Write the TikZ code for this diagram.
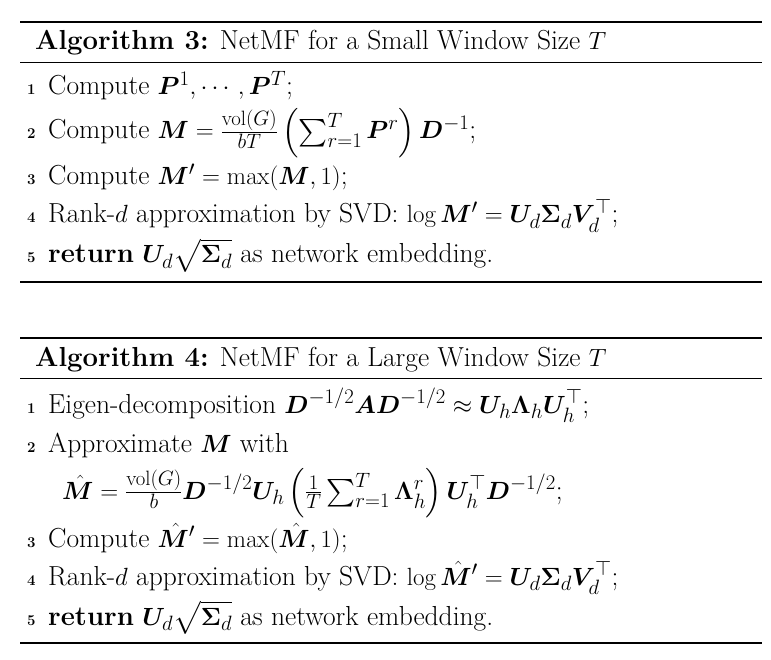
\documentclass[tikz,border=0pt]{standalone}
\usepackage{amsmath,amssymb,bm}
\begin{document}
\begin{tikzpicture}[x=1pt,y=-1pt,
  txt/.style={anchor=base west,inner sep=0pt,font=\fontsize{27.5}{31}\selectfont},
  num/.style={anchor=base west,inner sep=0pt,font=\fontsize{15}{17}\selectfont\bfseries},
  thick rule/.style={line width=1.6pt},
  thin rule/.style={line width=0.9pt}]
\useasboundingbox (0,0) rectangle (771,660);
% Algorithm 3
\draw[thick rule] (20,22) -- (762,22);
\node[txt] (c3) at (35,50) {\textbf{Algorithm 3:} NetMF for a Small Window Size $T$};
\draw[thin rule] (20,62) -- (762,62);
\node[num] (n31) at (27,95) {1};
\node[txt] (l31) at (48,95) {Compute $\bm{P}^1,\cdots,\bm{P}^T$;};
\node[num] (n32) at (27,139) {2};
\node[txt] (l32) at (48,139) {Compute $\bm{M}=\frac{\mathrm{vol}(G)}{bT}\left(\sum_{r=1}^{T}\bm{P}^r\right)\bm{D}^{-1}$;};
\node[num] (n33) at (27,185) {3};
\node[txt] (l33) at (48,185) {Compute $\bm{M}'=\max(\bm{M},1)$;};
\node[num] (n34) at (27,223) {4};
\node[txt] (l34) at (48,223) {Rank-$d$ approximation by SVD: $\log\bm{M}'=\bm{U}_d\bm{\Sigma}_d\bm{V}_d^{\top}$;};
\node[num] (n35) at (27,263) {5};
\node[txt] (l35) at (48,263) {\textbf{return} $\bm{U}_d\sqrt{\bm{\Sigma}_d}$ as network embedding.};
\draw[thick rule] (20,282) -- (762,282);
% Algorithm 4
\draw[thick rule] (20,338) -- (762,338);
\node[txt] (c4) at (35,366) {\textbf{Algorithm 4:} NetMF for a Large Window Size $T$};
\draw[thin rule] (20,378) -- (762,378);
\node[num] (n41) at (27,413) {1};
\node[txt] (l41) at (48,413) {Eigen-decomposition $\bm{D}^{-1/2}\bm{A}\bm{D}^{-1/2}\approx\bm{U}_h\bm{\Lambda}_h\bm{U}_h^{\top}$;};
\node[num] (n42) at (27,452) {2};
\node[txt] (l42) at (48,452) {Approximate $\bm{M}$ with};
\node[txt] (l42b) at (62,499) {$\hat{\bm{M}}=\frac{\mathrm{vol}(G)}{b}\bm{D}^{-1/2}\bm{U}_h\left(\frac{1}{T}\sum_{r=1}^{T}\bm{\Lambda}_h^r\right)\bm{U}_h^{\top}\bm{D}^{-1/2}$;};
\node[num] (n43) at (27,547) {3};
\node[txt] (l43) at (48,547) {Compute $\hat{\bm{M}}'=\max(\hat{\bm{M}},1)$;};
\node[num] (n44) at (27,585) {4};
\node[txt] (l44) at (48,585) {Rank-$d$ approximation by SVD: $\log\hat{\bm{M}}'=\bm{U}_d\bm{\Sigma}_d\bm{V}_d^{\top}$;};
\node[num] (n45) at (27,625) {5};
\node[txt] (l45) at (48,625) {\textbf{return} $\bm{U}_d\sqrt{\bm{\Sigma}_d}$ as network embedding.};
\draw[thick rule] (20,643) -- (762,643);
\end{tikzpicture}
\end{document}
